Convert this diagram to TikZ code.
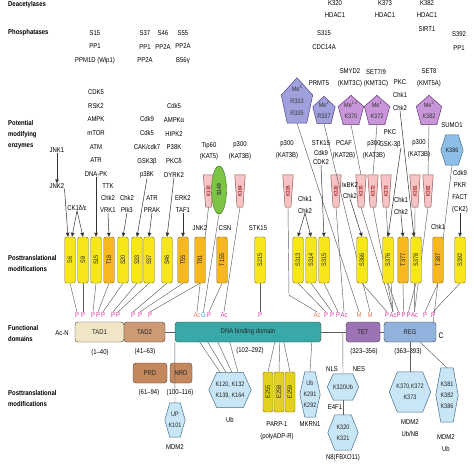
\documentclass[tikz,border=0pt]{standalone}
\usepackage{fontspec}
\setmainfont{Liberation Sans}[FakeStretch=0.85]
\usepackage{graphicx}
\usepackage{tikz}
\usetikzlibrary{
  arrows.meta,
  calc,
  backgrounds,
  shapes.geometric
}
\pgfdeclarelayer{links}
\pgfsetlayers{background,links,main}
\definecolor{ptmyellow}{RGB}{246,230,26}
\definecolor{ptmorange}{RGB}{247,184,30}
\definecolor{ptmborder}{RGB}{120,104,20}
\definecolor{acpink}{RGB}{246,196,196}
\definecolor{acborder}{RGB}{150,90,90}
\definecolor{actext}{RGB}{170,40,40}
\definecolor{sergreen}{RGB}{124,196,68}
\definecolor{serborder}{RGB}{60,120,30}
\definecolor{rmeth}{RGB}{160,160,220}
\definecolor{kmeth}{RGB}{200,150,216}
\definecolor{methborder}{RGB}{80,70,140}
\definecolor{ubblue}{RGB}{200,230,246}
\definecolor{ubborder}{RGB}{70,110,140}
\definecolor{sumoblue}{RGB}{140,190,232}
\definecolor{phoscol}{RGB}{222,60,160}
\definecolor{acetcol}{RGB}{228,130,96}
\definecolor{glycol}{RGB}{60,160,224}
\definecolor{tadone}{RGB}{240,230,198}
\definecolor{tadtwo}{RGB}{204,154,116}
\definecolor{dbdcol}{RGB}{56,168,168}
\definecolor{tetcol}{RGB}{156,116,180}
\definecolor{regcol}{RGB}{144,178,220}
\definecolor{prdcol}{RGB}{196,136,94}
\definecolor{parpcol}{RGB}{226,210,30}
\definecolor{linecol}{RGB}{95,95,95}
\definecolor{domborder}{RGB}{70,60,50}
% shapes drawn round named nodes
\newcommand{\hexshape}[3]{%
  \filldraw[#3] (#1.west) -- ([xshift=#2]#1.north west) -- ([xshift=-#2]#1.north east) -- (#1.east)
    -- ([xshift=-#2]#1.south east) -- ([xshift=#2]#1.south west) -- cycle;}
\newcommand{\pentshape}[2]{%
  \filldraw[#2] (#1.north) -- ($(#1.north east)!0.38!(#1.south east)$) -- ($(#1.south east)!0.19!(#1.south west)$)
    -- ($(#1.south west)!0.19!(#1.south east)$) -- ($(#1.north west)!0.38!(#1.south west)$) -- cycle;}
\newcommand{\trapshape}[2]{%
  \filldraw[#2] (#1.north west) -- (#1.north east) -- ($(#1.south east)!0.22!(#1.south west)$)
    -- ($(#1.south west)!0.22!(#1.south east)$) -- cycle;}

\begin{document}
\begin{tikzpicture}[
    x=1pt, y=-1pt,
    txt/.style={font=\fontsize{7}{13.5}\selectfont, align=center, inner sep=0pt},
    txtt/.style={font=\fontsize{7}{11.5}\selectfont, align=center, inner sep=0pt},
    catlabel/.style={font=\fontsize{7}{11}\selectfont\bfseries, align=left, anchor=west, inner sep=0pt},
    ptmbox/.style={draw=ptmborder, rounded corners=2pt, minimum width=10.5, minimum height=46,
        inner sep=0pt, font=\fontsize{6.5}{6.5}\selectfont, text=black!85},
    acnode/.style={minimum width=10, minimum height=32, inner sep=0pt,
        font=\fontsize{5.5}{6}\selectfont\bfseries, text=actext},
    pentnode/.style={minimum width=25, minimum height=29, inner sep=0pt, align=center,
        font=\fontsize{6.5}{11}\selectfont, text=black!80},
    hexnode/.style={inner sep=0pt, align=center, font=\fontsize{6.5}{11}\selectfont, text=black!85},
    dombox/.style={draw=domborder, rounded corners=3pt, minimum height=20, inner sep=0pt,
        font=\fontsize{7}{8}\selectfont, text=black!85},
    modP/.style={font=\fontsize{7}{8}\selectfont, text=phoscol, inner sep=0.5pt},
    modAc/.style={font=\fontsize{7}{8}\selectfont, text=acetcol, inner sep=0.5pt},
    modG/.style={font=\fontsize{7}{8}\selectfont, text=glycol, inner sep=0.5pt},
    link/.style={draw=linecol, line width=0.45pt},
    enzarrow/.style={draw=black!80, line width=0.5pt, -{Triangle[length=4pt,width=3.5pt]}},
    rfill/.style={fill=rmeth, draw=methborder, line width=0.5pt},
    kfill/.style={fill=kmeth, draw=methborder!80!purple, line width=0.5pt},
    acfill/.style={fill=acpink, draw=acborder, line width=0.5pt},
    ubfill/.style={fill=ubblue, draw=ubborder, line width=0.5pt},
    sumofill/.style={fill=sumoblue, draw=ubborder, line width=0.5pt}
]
\useasboundingbox (0,0) rectangle (474,474);

% ============================================================================
% Row labels
% ============================================================================
\node[catlabel] (lDeac) at (8,4.5) {Deacetylases};
\node[catlabel] (lPhos) at (8,33) {Phosphatases};
\node[catlabel] (lEnz) at (8,135) {Potential\\modifying\\enzymes};
\node[catlabel] (lPTM) at (8,263.5) {Posttranslational\\modifications};
\node[catlabel] (lDom) at (8,333.5) {Functional\\domains};
\node[catlabel] (lPTMb) at (8,398.5) {Posttranslational\\modifications};

% ============================================================================
% Deacetylases and phosphatases
% ============================================================================
\node[txtt] (dK320) at (335,9) {K320\\HDAC1};
\node[txtt] (dK373) at (385,9) {K373\\HDAC1};
\node[txtt] (dK382) at (427,9) {K382\\HDAC1};
\node[txt] (dSIRT) at (427,29) {SIRT1};
\node[txt] (fS15) at (95,47) {S15\\PP1\\PPM1D (Wip1)};
\node[txt] (fS37) at (145,47) {S37\\PP1\\PP2A};
\node[txt] (fS46) at (163,40) {S46\\PP2A};
\node[txt] (fS55) at (183,47) {S55\\PP2A\\B56γ};
\node[txt] (fS315) at (324,40) {S315\\CDC14A};
\node[txt] (fS392) at (459,41) {S392\\PP1};

% ============================================================================
% Modifying enzymes
% ============================================================================
\node[txt, font=\fontsize{7}{13.7}\selectfont] (eCol1) at (96,133) {CDK5\\RSK2\\AMPK\\mTOR\\ATM\\ATR\\DNA-PK};
\node[txt] (eJNK1) at (57,150) {JNK1};
\node[txt] (eJNK2) at (57,186) {JNK2};
\node[txt] (eCK1) at (77,208) {CK1δ/ε};
\node[txt, font=\fontsize{7}{12}\selectfont] (eTTK) at (108,198) {TTK\\Chk2\\VRK1};
\node[txt, font=\fontsize{7}{12}\selectfont] (eChkB) at (127,204) {Chk2\\Plk3};
\node[txt, font=\fontsize{7}{13.75}\selectfont] (eCol3) at (147,147.5) {Cdk9\\Cdk5\\CAK/cdk7\\GSK3β\\p38K};
\node[txt, font=\fontsize{7}{12}\selectfont] (eATR) at (152,204) {ATR\\PRAK};
\node[txt, font=\fontsize{7}{13.8}\selectfont] (eCol4) at (174,140.5) {Cdk5\\AMPKα\\HIPK2\\P38K\\PKCδ\\DYRK2};
\node[txt, font=\fontsize{7}{12}\selectfont] (eERK) at (183,204) {ERK2\\TAF1};
\node[txt] (eJNK2b) at (200,228) {JNK2};
\node[txt] (eCSN) at (225,228) {CSN};
\node[txtt] (eTip60) at (209,151) {Tip60\\(KAT5)};
\node[txtt] (eP300a) at (240,151) {p300\\(KAT3B)};
\node[txt] (eSTK) at (258,228) {STK15};
\node[txtt] (eP300b) at (287,150) {p300\\(KAT3B)};
\node[txt, font=\fontsize{7}{9.5}\selectfont] (eSTKb) at (321,153) {STK15\\Cdk9\\CDK2};
\node[txtt] (ePCAF) at (344,150) {PCAF\\(KAT2B)};
\node[txtt] (eIKK) at (350,190.5) {IκBK2\\Chk2};
\node[txtt] (eP300c) at (374,150) {p300\\(KAT3B)};
\node[txtt] (ePKCb) at (390,139) {PKC\\GSK-3β};
\node[txt, font=\fontsize{7}{13}\selectfont] (ePKCa) at (400,95) {PKC\\Chk1\\Chk2};
\node[txtt] (eP300d) at (419,149) {p300\\(KAT3B)};
\node[txt, font=\fontsize{7}{12}\selectfont] (eChkR) at (401,206) {Chk1\\Chk2};
\node[txt, font=\fontsize{7}{12}\selectfont] (eChkL) at (305,204.5) {Chk1\\Chk2};
\node[txt] (eChk1) at (438,227) {Chk1};
\node[txt, font=\fontsize{7}{12}\selectfont] (eCK2) at (460,192) {Cdk9\\PKR\\FACT\\(CK2)};
\node[txt] (eSUMO) at (452,125) {SUMO1};
\node[txt] (ePRMT) at (319,83) {PRMT5};
\node[txtt] (eSMYD) at (350,78) {SMYD2\\(KMT3C)};
\node[txtt] (eSET7) at (376,78) {SET7/9\\(KMT3C)};
\node[txtt] (eSET8) at (429,78) {SET8\\(KMT5A)};

% ============================================================================
% Methylation, acetylation and SUMO sites
% ============================================================================
\node[pentnode, minimum width=31, minimum height=45, font=\fontsize{6.5}{12}\selectfont] (pR333) at (297,100.5) {Me\textsuperscript{2}\\R333\\R335};
\node[pentnode, minimum width=22, minimum height=27] (pR337) at (324,110) {Me\textsuperscript{2}\\R337};
\node[pentnode] (pK370) at (351,110) {Me\textsuperscript{1,2}\\K370};
\node[pentnode] (pK372) at (377,110) {Me\textsuperscript{1}\\K372};
\node[pentnode] (pK382) at (429,110) {Me\textsuperscript{2}\\K382};

\foreach \px/\nm in {208.5/K120, 240/K164, 288/K305, 336/K320, 361/K370, 373/K372, 386/K373, 415/K381, 428/K382}
  \node[acnode] (a\nm) at (\px,191) {\rotatebox{90}{\nm}};

\node[draw=serborder, fill=sergreen, ellipse, minimum width=15, minimum height=48, inner sep=0pt,
      font=\fontsize{6}{6}\selectfont\bfseries, text=black!75] (eS149) at (219,190) {\rotatebox{90}{S149}};
\node[hexnode, minimum width=22, minimum height=30] (hK386) at (452,150) {K386};

% ============================================================================
% Modified residues
% ============================================================================
\foreach \px/\nm/\cl in {70/S6/ptmyellow, 83/S9/ptmyellow, 96/S15/ptmyellow, 109/T18/ptmorange,
    123/S20/ptmyellow, 137/S33/ptmyellow, 149/S37/ptmyellow, 167/S46/ptmyellow, 183/T55/ptmorange,
    200/T81/ptmorange, 222/T155/ptmorange, 260/S215/ptmyellow, 298/S313/ptmyellow, 311/S314/ptmyellow,
    324/S315/ptmyellow, 362/S366/ptmyellow, 388/S376/ptmyellow, 403/T377/ptmorange, 416/S378/ptmyellow,
    438/T387/ptmorange, 460/S392/ptmyellow}
  \node[ptmbox, fill=\cl] (b\nm) at (\px,260) {\rotatebox{90}{\nm}};

\foreach \px/\nm/\tx/\st in {77/P1/P/modP, 83/P2/P/modP, 93/P3/P/modP, 98/P4/P/modP, 103/P5/P/modP,
    113/P6/P/modP, 118/P7/P/modP, 133/P8/P/modP, 140/P9/P/modP, 150/P10/P/modP,
    197/Ac1/Ac/modAc, 203.5/G1/G/modG, 209/P11/P/modP, 224/Ac2/Ac/modP, 260/P12/P/modP,
    317/Ac3/Ac/modAc, 326/P13/P/modP, 332/P14/P/modP, 338/P15/P/modP, 344/Ac4/Ac/modP,
    359/M1/M/modAc, 370/M2/M/modAc, 387/P16/P/modP, 393/Ac5/Ac/modP, 398.5/P17/P/modP,
    403.5/P18/P/modP, 408.5/P19/P/modP, 414.5/Ac6/Ac/modP, 425/P20/P/modP, 433/P21/P/modP}
  \node[\st] (m\nm) at (\px,315) {\tx};

% ============================================================================
% Functional domains
% ============================================================================
\node[txt] (tAcN) at (62,333) {Ac-N};
\node[dombox, fill=tadone, minimum width=49] (dTAD1) at (99.5,332) {TAD1};
\node[dombox, fill=tadtwo, minimum width=41] (dTAD2) at (144.5,332) {TAD2};
\node[dombox, fill=dbdcol, minimum width=146] (dDBD) at (248,332) {DNA binding domain};
\node[dombox, fill=tetcol, minimum width=34] (dTET) at (363,332) {TET};
\node[dombox, fill=regcol, minimum width=52] (dREG) at (410,332) {REG};
\node[txt, font=\fontsize{8}{9}\selectfont] (tC) at (441,336) {C};
\draw[link] (dTAD2.east) -- (dDBD.west);
\draw[link] (dDBD.east) -- (dTET.west);
\draw[link] (dTET.east) -- (dREG.west);

\node[txt] (rTAD1) at (100,353) {(1–40)};
\node[txt] (rTAD2) at (145,352) {(41–63)};
\node[txt] (rDBD) at (250,351) {(102–292)};
\node[txt] (rTET) at (364,352) {(323–356)};
\node[txt] (rREG) at (408,352) {(363–393)};

\node[dombox, fill=prdcol, minimum width=34] (dPRD) at (150,373) {PRD};
\node[dombox, fill=prdcol, minimum width=22] (dNRD) at (181,373) {NRD};
\node[txt] (rPRD) at (149,393) {(61–94)};
\node[txt] (rNRD) at (180,393) {(100–116)};

% ============================================================================
% Lower modifications
% ============================================================================
\node[hexnode, minimum width=20, minimum height=34] (hK101) at (175,420) {UP\\K101};
\node[txt] (lMDM2a) at (175,447) {MDM2};
\node[hexnode, minimum width=42, minimum height=35] (hK120) at (230,390) {K120, K132\\K139, K164};
\node[txt] (lUb) at (230,420) {Ub};
\foreach \px/\nm in {268/E255, 279/E258, 290/E259}
  \node[ptmbox, fill=parpcol, minimum width=10, minimum height=40] (b\nm) at (\px,392) {\rotatebox{90}{\nm}};
\node[txtt] (lPARP) at (277,431) {PARP-1\\(polyADP-R)};
\node[hexnode, minimum width=20, minimum height=45] (hK291) at (310,394.5) {Ub\\K291\\K292};
\node[txt] (lMKRN) at (310,424) {MKRN1};
\node[txt] (lNLS) at (332,369) {NLS};
\node[txt] (lNES) at (359,369) {NES};
\node[hexnode, minimum width=31, minimum height=26] (hK320u) at (343,387) {K320Ub};
\node[txt] (lE4F1) at (335,407) {E4F1};
\node[hexnode, minimum width=30, minimum height=35] (hK320) at (343,432.5) {K320\\K321};
\node[txt] (lN8) at (343,458) {N8(FBXO11)};
\node[hexnode, minimum width=41, minimum height=40] (hK370) at (410,392) {K370,K372\\K373};
\node[txtt] (lMDM2b) at (410,428) {MDM2\\Ub/N8};
\node[hexnode, minimum width=22, minimum height=54] (hK381) at (447,395) {K381\\K382\\K386};
\node[txtt] (lMDM2c) at (446,443) {MDM2\\Ub};

% ============================================================================
% Enzyme arrows
% ============================================================================
\draw[enzarrow] (eJNK1) -- (eJNK2);
\draw[enzarrow] (eJNK2.south east) -- ([xshift=-2pt]bS6.north);
\draw[enzarrow] (eCK1.south) -- ([xshift=2pt]bS6.north);
\draw[enzarrow] (eCK1.south) -- (bS9.north);
\draw[enzarrow] (eCol1.south) -- (bS15.north);
\draw[enzarrow] (eTTK.south) -- (bT18.north);
\draw[enzarrow] (eChkB.south) -- (bS20.north);
\draw[enzarrow] (eCol3.south) -- (bS33.north);
\draw[enzarrow] (eATR.south) -- (bS37.north);
\draw[enzarrow] (eCol4.south) -- (bS46.north);
\draw[enzarrow] (eERK.south) -- (bT55.north);
\draw[enzarrow] (eChkL.south) -- (bS313.north);
\draw[enzarrow] (eChkL.south) -- (bS314.north);
\draw[enzarrow] (eSTKb.south) -- (bS315.north);
\draw[enzarrow] (eIKK.south) -- (bS366.north);
\draw[enzarrow] (ePKCb.south east) -- (bS376.north);
\draw[enzarrow] (eChkR.south) -- (bT377.north);
\draw[enzarrow] (ePKCa.south) -- ([xshift=-2pt]bS378.north);
\draw[enzarrow] (eCK2.south) -- (bS392.north);

% ============================================================================
% Links between sites and domains
% ============================================================================
\draw[link] (dDBD.south west) -- (hK101.north);
\draw[link] ([xshift=25pt]dDBD.south west) -- ([xshift=-10pt]hK120.north);
\draw[link] ([xshift=33pt]dDBD.south west) -- ([xshift=-4pt]hK120.north);
\draw[link] ([xshift=43pt]dDBD.south west) -- ([xshift=2pt]hK120.north);
\draw[link] ([xshift=55pt]dDBD.south west) -- ([xshift=8pt]hK120.north);
\draw[link] ([xshift=100pt]dDBD.south west) -- (bE255.north);
\draw[link] ([xshift=105pt]dDBD.south west) -- (bE258.north);
\draw[link] ([xshift=109pt]dDBD.south west) -- (bE259.north);
\draw[link] ([xshift=137pt]dDBD.south west) -- (hK291.north);
\draw[link] ($(dDBD.east)!0.88!(dTET.west)$) -- (hK320u.north);
\draw[link] (hK320u.south) -- (hK320.north);
\draw[link] (dREG.south) -- (hK370.north);
\draw[link] ([xshift=10pt]dREG.south) -- (hK381.north);

\begin{pgfonlayer}{links}
\draw[link] (bS6.south) -- (mP1.north);
\draw[link] (bS9.south) -- (mP2.north);
\draw[link] (bS15.south) -- (mP3.north);
\draw[link] (bT18.south) -- (mP4.north);
\draw[link] (bS20.south) -- (mP5.north);
\draw[link] (bS33.south) -- (mP6.north);
\draw[link] (bS37.south) -- (mP7.north);
\draw[link] (bS46.south) -- (mP8.north);
\draw[link] (bT55.south) -- (mP9.north);
\draw[link] (bT81.south) -- (mP10.north);
\draw[link] (aK120.south) -- (mAc1.north);
\draw[link] (eS149.south) -- (mG1.north);
\draw[link] (bT155.south) -- (mP11.north);
\draw[link] (aK164.south) -- (mAc2.north);
\draw[link] (bS215.south) -- (mP12.north);
\draw[link] (aK305.south) -- ++(1,88) -- (mAc3.north);
\draw[link] (bS313.south) -- (mP13.north);
\draw[link] (bS314.south) -- (mP14.north);
\draw[link] (bS315.south) -- (mP15.north);
\draw[link] (aK320.south) -- (mAc4.north);
\draw[link] (pR333.south) -- (mM1.north);
\draw[link] (pR337.south) -- (mM2.north);
\draw[link] (pK370.south) -- (aK370.north);
\draw[link] (pK372.south) -- (aK372.north);
\draw[link] (pK382.south) -- (aK382.north);
\draw[link] (bS366.south) -- (mP16.north);
\draw[link] (aK370.south) -- (mAc5.north);
\draw[link] (aK372.south) -- (mAc5.north);
\draw[link] (aK373.south) -- (mAc5.north);
\draw[link] (bS376.south) -- (mP17.north);
\draw[link] (bT377.south) -- (mP18.north);
\draw[link] (bS378.south) -- (mP19.north);
\draw[link] (aK381.south) -- (mAc6.north);
\draw[link] (aK382.south) -- (mAc6.north);
\draw[link] (bT387.south) -- (mP20.north);
\draw[link] (bS392.south) -- (mP21.north);
\draw[link] (hK386.south) -- ([xshift=-3pt]dREG.north east);
\end{pgfonlayer}

% ============================================================================
% Site shapes behind their labels
% ============================================================================
\begin{scope}[on background layer]
\fill[white] (0,0) rectangle (474,474);
\pentshape{pR333}{rfill}
\pentshape{pR337}{rfill}
\pentshape{pK370}{kfill}
\pentshape{pK372}{kfill}
\pentshape{pK382}{kfill}
\foreach \nm in {K120, K164, K305, K320, K370, K372, K373, K381, K382}
  {\trapshape{a\nm}{acfill}}
\hexshape{hK386}{5}{sumofill}
\hexshape{hK101}{5}{ubfill}
\hexshape{hK120}{8}{ubfill}
\hexshape{hK291}{5}{ubfill}
\hexshape{hK320u}{6}{ubfill}
\hexshape{hK320}{7}{ubfill}
\hexshape{hK370}{8}{ubfill}
\hexshape{hK381}{5}{ubfill}
\end{scope}

\end{tikzpicture}
\end{document}
